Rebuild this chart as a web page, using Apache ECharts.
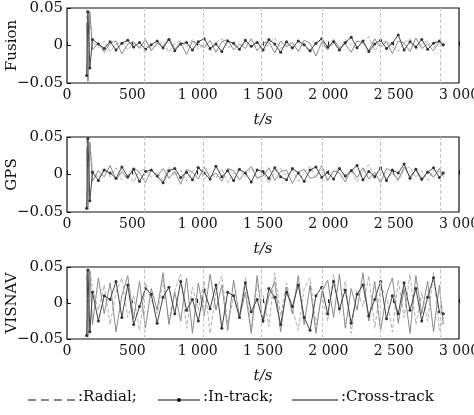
<!DOCTYPE html>
<html>
<head>
<meta charset="utf-8">
<script src="https://cdn.jsdelivr.net/npm/echarts@6/dist/echarts.min.js"></script>
<style>html,body{margin:0;padding:0;background:#fff}#main{width:474px;height:415px}</style>
</head>
<body>
<div id="main"></div>
<script>
// sample times (s)
var times = [150,160,175,195,240,285,330,375,420,465,510,555,600,645,690,735,780,825,870,915,960,1005,1050,1095,1140,1185,1230,1275,1320,1365,1410,1455,1500,1545,1590,1635,1680,1725,1770,1815,1860,1905,1950,1995,2040,2085,2130,2175,2220,2265,2310,2355,2400,2445,2490,2535,2580,2625,2670,2715,2760,2805,2850,2880];
var xTicks = [0,500,1000,1500,2000,2500,3000];
var yTicks = [-0.05,0,0.05];
var panelNames = ['Fusion','GPS','VISNAV'];
// vertical dashed marks
var markTimes = [590,1040,1490,1950,2400,2860];

// errors in units of 0.001
var fusionRad   = [48,-45,40,5,-3,6,-8,2,4,-6,3,-2,7,-4,1,5,-9,3,6,-2,8,-5,2,-7,4,9,-3,1,-6,5,-2,7,-8,3,10,-4,2,-5,6,-1,-9,4,7,-3,2,-6,8,1,-4,5,12,-7,3,6,-2,-8,4,9,-5,2,6,-3,7,0];
var fusionIn    = [-40,45,-30,8,2,-4,5,-6,3,7,-2,4,-5,1,6,-3,8,-7,2,4,-6,5,9,-4,2,-8,6,3,-5,7,-1,4,-6,8,2,-9,5,-3,6,1,-7,3,9,-2,5,-6,4,11,-3,6,-8,2,7,-4,3,14,-6,5,-2,8,-5,3,6,1];
var fusionCross = [30,-48,45,-6,4,-9,3,6,-11,2,5,-4,8,-7,3,-2,10,-5,4,-12,6,2,-3,7,-9,5,8,-6,2,-4,9,-7,3,5,-10,6,-2,4,-8,7,3,-14,5,-6,8,-3,2,-9,6,4,-7,9,-2,5,-11,6,3,-8,10,-4,2,-7,5,-2];
var gpsRad      = [47,-40,44,6,-5,8,-3,9,-7,2,-10,5,7,-4,3,-8,10,-2,6,-9,4,12,-6,3,-5,8,-11,2,7,-3,9,-6,4,-12,5,8,-2,6,-9,3,11,-4,7,-7,2,9,-5,6,-10,4,13,-3,8,-6,2,-9,7,10,-4,5,-8,6,3,1];
var gpsIn       = [-45,48,-35,3,-8,6,2,-5,10,-3,7,-9,4,6,-2,-11,5,8,-4,3,-7,9,2,-6,11,-3,5,-8,7,2,-10,6,4,-5,9,-3,-7,8,2,-9,6,10,-4,3,-6,8,-2,5,12,-7,4,-3,9,-8,6,2,14,-5,7,-6,3,9,-4,2];
var gpsCross    = [35,-47,42,-9,5,-3,12,-7,4,-6,9,3,-11,6,-2,8,-5,4,-13,7,3,-6,10,-4,2,-9,8,5,-7,3,11,-5,-2,9,-8,4,6,-12,3,7,-5,-3,12,-8,5,2,-10,7,-4,9,-6,3,-11,8,4,-7,10,-3,6,-9,5,-4,8,-3];
var visRad      = [46,-48,47,20,-10,25,-30,15,35,-20,10,-38,28,5,-15,32,-25,18,40,-35,22,-10,30,-42,15,38,-28,8,-20,35,-40,25,12,-33,42,-18,28,-8,-38,20,35,-30,10,-25,40,-15,30,-42,18,-5,38,-35,22,10,-40,32,-20,40,-30,15,-25,42,-38,-20];
var visIn       = [-45,46,-40,15,-25,10,5,30,-20,25,-30,-5,20,12,-28,8,22,-15,30,-10,5,-25,18,-8,25,-35,15,10,-20,28,-12,5,-25,20,8,-30,15,-5,25,-20,-38,10,22,-15,30,-8,18,-28,12,25,-18,5,30,-22,10,-15,28,-10,20,-25,8,35,-12,-15];
var visCross    = [40,-46,44,-30,35,-15,28,-40,10,38,-22,30,-35,20,-10,42,-30,15,-25,35,-42,28,-18,40,-10,25,-38,32,-20,15,-42,38,-28,10,30,-40,22,-15,38,-30,25,-42,15,32,-20,40,-35,20,-10,42,-25,30,-38,12,35,-28,20,-42,38,-15,30,-40,25,-30];

var panels = [[fusionRad,fusionIn,fusionCross],[gpsRad,gpsIn,gpsCross],[visRad,visIn,visCross]];

function pairs(vals){
  var out = [];
  for (var i = 0; i < Math.min(times.length, vals.length); i++) out.push([times[i], vals[i] / 1000]);
  return out;
}

var chart = echarts.init(document.getElementById('main'));
var serif = 'DejaVu Serif';
var tops = [8, 137, 267];
var heights = [75, 75, 72];
var grids = [], xAxes = [], yAxes = [], series = [], graphics = [];

tops.forEach(function(top, k){
  grids.push({left: 67, right: 15, top: top, height: heights[k], show: true, borderColor: '#111', borderWidth: 1.2,
    outerBoundsMode: 'none', containLabel: false});
  xAxes.push({
    gridIndex: k, type: 'value', min: 0, max: 3000, interval: 500,
    name: 't/s', nameLocation: 'middle', nameGap: 30,
    nameTextStyle: {fontFamily: serif, fontStyle: 'italic', fontSize: 15, color: '#111'},
    axisLine: {show: false}, splitLine: {show: false},
    axisTick: {inside: true, length: 4, lineStyle: {color: '#111'}},
    axisLabel: {fontFamily: serif, fontSize: 14, color: '#111', margin: 5, hideOverlap: false,
      formatter: function(v){ return v >= 1000 ? Math.floor(v/1000) + ' ' + String(v%1000).padStart(3,'0') : String(v); }}
  });
  yAxes.push({
    gridIndex: k, type: 'value', min: -0.05, max: 0.05, interval: 0.05,
    axisLine: {show: false}, splitLine: {show: false},
    axisTick: {inside: true, length: 4, lineStyle: {color: '#111'}},
    axisLabel: {fontFamily: serif, fontSize: 15, color: '#111', margin: 4,
      formatter: function(v){ return v === 0 ? '0' : (v < 0 ? '\u22120.05' : '0.05'); }}
  });
  // panel name, rotated
  graphics.push({type: 'text', x: 12, y: top + heights[k] / 2, rotation: Math.PI / 2,
    style: {text: panelNames[k], font: '15px "DejaVu Serif"', fill: '#111', align: 'center', verticalAlign: 'middle'}});
  var set = panels[k];
  series.push({
    type: 'line', xAxisIndex: k, yAxisIndex: k, data: pairs(set[0]), showSymbol: false,
    lineStyle: {color: '#b0b0b0', width: 1, type: 'dashed'},
    markLine: {silent: true, symbol: 'none', label: {show: false},
      lineStyle: {color: '#c4c4c4', type: 'dashed', width: 1},
      data: markTimes.map(function(t){ return {xAxis: t}; })}
  });
  series.push({
    type: 'line', xAxisIndex: k, yAxisIndex: k, data: pairs(set[2]), showSymbol: false,
    lineStyle: {color: '#8a8a8a', width: 1}
  });
  series.push({
    type: 'line', xAxisIndex: k, yAxisIndex: k, data: pairs(set[1]),
    symbol: 'circle', symbolSize: 3, itemStyle: {color: '#333'},
    lineStyle: {color: '#444', width: 1}
  });
});

// legend drawn by hand
var ly = 400;
graphics.push({type: 'line', shape: {x1: 28, y1: ly, x2: 75, y2: ly}, style: {stroke: '#111', lineWidth: 1.2, lineDash: [8, 5]}});
graphics.push({type: 'text', left: 78, top: ly - 10, style: {text: ':Radial;', font: '15px "DejaVu Serif"', fill: '#111'}});
graphics.push({type: 'line', shape: {x1: 158, y1: ly, x2: 200, y2: ly}, style: {stroke: '#111', lineWidth: 1.2}});
graphics.push({type: 'circle', shape: {cx: 179, cy: ly, r: 2}, style: {fill: '#111'}});
graphics.push({type: 'text', left: 203, top: ly - 10, style: {text: ':In-track;', font: '15px "DejaVu Serif"', fill: '#111'}});
graphics.push({type: 'line', shape: {x1: 292, y1: ly, x2: 338, y2: ly}, style: {stroke: '#111', lineWidth: 1.2}});
graphics.push({type: 'text', left: 341, top: ly - 10, style: {text: ':Cross-track', font: '15px "DejaVu Serif"', fill: '#111'}});

chart.setOption({
  backgroundColor: '#fff',
  animation: false,
  grid: grids,
  xAxis: xAxes,
  yAxis: yAxes,
  series: series,
  graphic: graphics
});
</script>
</body>
</html>
